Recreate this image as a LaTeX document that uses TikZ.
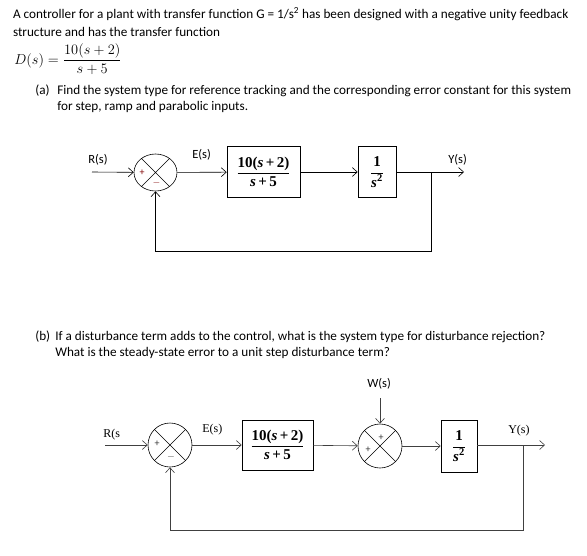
\documentclass[tikz,border=0pt]{standalone}
\usepackage{amsmath}
\usepackage{fontspec}
\setmainfont{Carlito}
\newfontfamily\timesfont{Liberation Serif}
\usetikzlibrary{arrows.meta,positioning,calc,shapes.geometric}
\newcommand{\blockfrac}[2]{$\dfrac{\text{\timesfont\bfseries #1}}{\text{\timesfont\bfseries #2}}$}
\tikzstyle{block}=[draw, minimum height=51pt, inner sep=0pt, font=\fontsize{15}{17}\selectfont]
\tikzstyle{sum}=[draw, ellipse, minimum width=44pt, minimum height=44pt, inner sep=0pt]
\tikzstyle{arrow}=[->,>={Straight Barb[length=5pt,width=9pt]}]
\tikzstyle{txt}=[anchor=base west, inner sep=0pt, font=\fontsize{13.2}{15}\selectfont]
\tikzstyle{lbl}=[anchor=base west, inner sep=0pt, font=\fontsize{12.5}{14}\selectfont]
\tikzstyle{tlbl}=[anchor=base west, inner sep=0pt, font=\timesfont\fontsize{12}{14}\selectfont]
\tikzstyle{sign}=[inner sep=0pt, text=red!50!black, font=\fontsize{10}{12}\selectfont]
\begin{document}
\begin{tikzpicture}[x=1pt,y=-1pt,line width=0.6pt]
\useasboundingbox (0,0) rectangle (587,555);
% problem text
\node[txt] (l1) at (12.7,18) {A controller for a plant with transfer function G = 1/s\textsuperscript{2} has been designed with a negative unity feedback};
\node[txt] (l2) at (12.7,36) {structure and has the transfer function};
\node[anchor=base west,inner sep=0pt,font=\fontsize{13.5}{15}\selectfont] (Ds) at (14,64) {$D(s)=\dfrac{10(s+2)}{s+5}$};
\node[txt] (qa) at (35,94) {(a)};
\node[txt] (qa1) at (57,94) {Find the system type for reference tracking and the corresponding error constant for this system};
\node[txt] (qa2) at (57,110) {for step, ramp and parabolic inputs.};
\node[txt] (qb) at (35,340.7) {(b)};
\node[txt] (qb1) at (55,340.7) {If a disturbance term adds to the control, what is the system type for disturbance rejection?};
\node[txt] (qb2) at (55,356) {What is the steady-state error to a unit step disturbance term?};
% diagram (a)
\node[sum,minimum width=43pt,minimum height=37pt] (s1) at (155.5,172.5) {};
\node[block,minimum width=73pt] (d1) at (263.5,172) {\blockfrac{10(\textit{s}\,+\,2)}{\textit{s}\,+\,5}};
\node[block,minimum width=38pt] (g1) at (377,172) {\blockfrac{1}{\textit{s}\textsuperscript{2}}};
\coordinate (r1) at (92,172);
\coordinate (y1) at (464,172);
\coordinate (b1) at (431,172);
\draw[arrow] (r1) -- (s1);
\draw[arrow] (s1) -- (d1);
\draw[arrow] (d1) -- (g1);
\draw[arrow] (g1) -- (y1);
\draw[arrow] (b1) -- ++(0,79) -| (s1.south);
\node[sign] at (142,173) {+};
\node[sign] at (156.5,183) {$-$};
\node[lbl] (R1) at (88,163) {R(s)};
\node[lbl] (E1) at (192,158) {E(s)};
\node[lbl] (Y1) at (448,163) {Y(s)};
% diagram (b)
\node[sum] (s2) at (170,445) {};
\node[block,minimum width=71pt,minimum height=50pt] (d2) at (277.5,445) {\blockfrac{10(\textit{s}\,+\,2)}{\textit{s}\,+\,5}};
\node[sum] (s3) at (380,446) {};
\node[block,minimum width=36pt,minimum height=52pt] (g2) at (459,446) {\blockfrac{1}{\textit{s}\textsuperscript{2}}};
\coordinate (r2) at (105,445);
\coordinate (w2) at (380,398);
\coordinate (y2) at (545,445);
\coordinate (b2) at (523,445);
\begin{scope}[draw=black!75]
\draw[arrow] (r2) -- (s2);
\draw[arrow] (s2) -- (d2);
\draw[arrow] (d2) -- (s3);
\draw[arrow] (s3) -- (g2);
\draw[arrow] (g2.east|-y2) -- (y2);
\draw[arrow] (w2) -- (s3);
\draw[arrow] (b2) -- ++(0,85) -| (s2.south);
\end{scope}
\node[sign,text=black!80] at (157,444) {+};
\node[sign,text=black!80] at (171,457) {$-$};
\node[sign,text=black!80] at (381,438) {+};
\node[sign,text=black!80] at (368,450) {+};
\node[tlbl] (R2) at (103,437) {R(s};
\node[tlbl] (E2) at (202,432) {E(s)};
\node[tlbl] (Y2) at (508,433) {Y(s)};
\node[lbl] (W2) at (367,387) {W(s)};
% crosses in the summing junctions
\foreach \s in {s1,s2,s3}
  \draw (\s.45) -- (\s.225) (\s.135) -- (\s.315);
\end{tikzpicture}
\end{document}
